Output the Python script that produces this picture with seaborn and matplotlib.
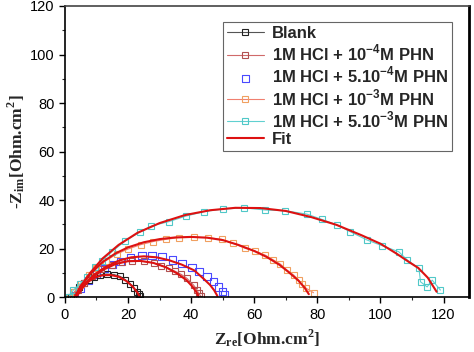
import matplotlib
matplotlib.use("Agg")
import matplotlib.pyplot as plt
import seaborn as sns

# --- data (Z_re, -Z_im in Ohm.cm2) ---
blank_x = [2, 3, 4.5, 6, 7.5, 9.1, 11.2, 13.3, 15.5, 17.6, 19.1, 20.7, 21.8, 22.9, 23.4, 23.9]
blank_y = [0.2, 2, 4.2, 5.8, 7, 8.3, 9.2, 9.5, 9.3, 8.5, 7.2, 5.5, 3.8, 2, 1.2, 0.6]

c1_x = [2.5, 4, 6, 8.6, 11.5, 14.9, 18.1, 21.3, 25, 28.2, 30.5, 32.9, 35, 36.8, 38.7, 40.8, 41.9, 42.4, 43]
c1_y = [0.5, 3, 6, 8.8, 11.5, 13.4, 14.6, 15, 14.7, 14, 13, 11.8, 10.6, 9.4, 7.7, 4.9, 2.9, 1.5, 0.5]

c2_x = [3, 5, 7.5, 10, 12.5, 15, 17.6, 20.7, 24.4, 27.6, 30.8, 34, 37.1, 40.3, 42.5, 45, 47, 48.7, 50, 50.5]
c2_y = [0.5, 3.5, 6.8, 9.5, 11.8, 13.4, 14.8, 16.3, 17.2, 17.2, 16.6, 15.3, 13.8, 12.3, 10.6, 8.4, 6.3, 4.2, 2.2, 1]

c3_x = [1.5, 3, 5, 7.5, 10, 13, 16.5, 20, 24, 28, 32, 36, 40.8, 45.3, 49.7, 53.4, 57.1, 60.3, 63.5,
        66.1, 68.3, 70.4, 72.5, 74.1, 75.1, 76.5, 78.8]
c3_y = [0.2, 2, 5.5, 9, 12, 15, 17.8, 19.8, 21.6, 22.9, 23.8, 24.5, 24.6, 24.5, 23.8, 22.1, 20.1, 19,
        17.3, 15.3, 13.6, 11.1, 9.1, 7, 5.2, 3.6, 1.8]

c4_x = [1.2, 2.7, 4.9, 7, 9.6, 11.7, 14.9, 19.1, 23.9, 27.4, 32.9, 38.4, 44, 50, 56.6, 63.5, 69.8,
        76.7, 81.5, 86.3, 90.5, 95.8, 100.5, 105.8, 108.5, 112.2, 112.7, 114.8, 116.4, 119]
c4_y = [0.1, 2.9, 5.6, 8.1, 12.2, 15, 18.7, 23.2, 26.9, 29.3, 31.1, 33.4, 35.2, 36.3, 36.8, 35.9, 35.6,
        34.2, 32, 29.7, 26.9, 23.5, 21.2, 18.7, 15.3, 11.8, 6.3, 4.2, 7, 2.9]

fit0_x = [3.5, 5, 7, 9.5, 12, 14.5, 17, 19.5, 21.5, 23, 23.8]
fit0_y = [0, 3.2, 6, 8.1, 9, 9.1, 8.4, 6.6, 4.3, 1.8, 0]
fit1_x = [3.5, 6, 9, 12.5, 16, 20, 24, 28, 32, 35.5, 38.5, 40.5, 41.8, 42.3]
fit1_y = [0, 4.5, 8.5, 11.5, 13.6, 14.8, 14.9, 14.1, 12.3, 9.8, 7, 4.2, 1.8, 0.3]
fit2_x = [3.5, 6, 9, 13, 17, 21, 25, 29, 33, 37, 41, 44, 46, 47.3, 48.3]
fit2_y = [0, 5, 9, 12.5, 15, 16.4, 16.8, 16.4, 15.2, 13.4, 11, 7.5, 5, 2.8, 0.5]
fit3_x = [3, 5, 8, 12, 16, 20, 25, 30, 35, 40, 45, 50, 55, 60, 64, 68, 71, 74, 76, 77.3]
fit3_y = [0, 4.5, 9.5, 14.5, 18, 20.5, 22.6, 23.9, 24.6, 24.8, 24.5, 23.5, 21.5, 19, 16.5, 13.3, 10.2,
          6.8, 3.8, 1.2]
fit4_x = [3.5, 5, 8, 12, 17, 23, 30, 38, 46, 54, 62, 70, 78, 86, 94, 100, 105, 109, 112, 115, 117.8]
fit4_y = [0, 4.5, 10, 16, 21.5, 26.5, 30.5, 33.8, 35.8, 36.8, 36.7, 35.5, 33, 29.8, 25.5, 22, 18,
          14.5, 12, 8, 2.2]

labels = ["Blank",
          r"1M HCl + 10$^{\mathsf{-4}}$M PHN",
          r"1M HCl + 5.10$^{\mathsf{-4}}$M PHN",
          r"1M HCl + 10$^{\mathsf{-3}}$M PHN",
          r"1M HCl + 5.10$^{\mathsf{-3}}$M PHN",
          "Fit"]

sns.set_theme(style="ticks")
plt.rcParams["font.family"] = ["Liberation Sans", "DejaVu Sans"]
plt.rcParams["mathtext.fontset"] = "custom"
plt.rcParams["mathtext.rm"] = "Liberation Serif:bold"
plt.rcParams["mathtext.bf"] = "Liberation Serif:bold"
plt.rcParams["mathtext.sf"] = "Liberation Sans:bold"

fig, ax = plt.subplots(figsize=(4.74, 3.52), dpi=100)
fig.subplots_adjust(left=0.137, right=0.989, bottom=0.156, top=0.983)

mk = dict(marker="s", markersize=5, markerfacecolor="none", markeredgewidth=0.8)

sns.lineplot(x=blank_x, y=blank_y, sort=False, estimator=None, ax=ax, color="#555555",
             markeredgecolor="#222222", lw=0.8, label=labels[0], **mk)
sns.lineplot(x=c1_x, y=c1_y, sort=False, estimator=None, ax=ax, color="#d06a6a",
             markeredgecolor="#b05050", lw=0.8, label=labels[1], **mk)
sns.scatterplot(x=c2_x, y=c2_y, ax=ax, marker="s", s=28, facecolor="none",
                edgecolor="#4a4aff", linewidth=0.8, label=labels[2])
sns.lineplot(x=c3_x, y=c3_y, sort=False, estimator=None, ax=ax, color="#f08070",
             markeredgecolor="#f0a060", lw=0.8, label=labels[3], **mk)
sns.lineplot(x=c4_x, y=c4_y, sort=False, estimator=None, ax=ax, color="#60d0d0",
             markeredgecolor="#50c8c8", lw=0.8, label=labels[4], **mk)

for i, (fx, fy) in enumerate([(fit0_x, fit0_y), (fit1_x, fit1_y), (fit2_x, fit2_y),
                              (fit3_x, fit3_y), (fit4_x, fit4_y)]):
    sns.lineplot(x=fx, y=fy, sort=False, estimator=None, ax=ax, color="#dd1111", lw=1.5,
                 label=labels[5] if i == 0 else None)

ax.set_xlim(0, 128)
ax.set_ylim(0, 120)
ax.set_xticks([0, 20, 40, 60, 80, 100, 120])
ax.set_yticks([0, 20, 40, 60, 80, 100, 120])
ax.set_xticks(range(10, 130, 20), minor=True)
ax.set_yticks(range(10, 120, 20), minor=True)
ax.tick_params(axis="both", which="major", labelsize=10.5, length=4, width=1, colors="black")
ax.tick_params(axis="both", which="minor", length=2.5, width=0.8)
for side in ["left", "bottom", "top"]:
    ax.spines[side].set_linewidth(1.2)
    ax.spines[side].set_color("black")
ax.spines["top"].set_color("#444444")
ax.spines["right"].set_linewidth(2)
ax.spines["right"].set_color("black")

ax.set_xlabel(r"$\mathbf{Z_{re}}$[Ohm.cm$^{\mathbf{2}}$]", fontsize=12.5,
              fontfamily="Liberation Serif", fontweight="bold")
ax.set_ylabel(r"-$\mathbf{Z_{im}}$[Ohm.cm$^{\mathbf{2}}$]", fontsize=12.5,
              fontfamily="Liberation Serif", fontweight="bold", labelpad=2)

leg = ax.legend(loc="upper left", bbox_to_anchor=(0.470, 0.9375), bbox_transform=fig.transFigure,
                prop={"weight": "bold", "size": 12}, frameon=True, fancybox=False,
                edgecolor="#666666", framealpha=1, labelspacing=0.1, handlelength=2.2,
                handletextpad=0.5, borderpad=0.25, borderaxespad=0)
leg.get_frame().set_linewidth(0.8)

fig.savefig("out.png", dpi=100)
